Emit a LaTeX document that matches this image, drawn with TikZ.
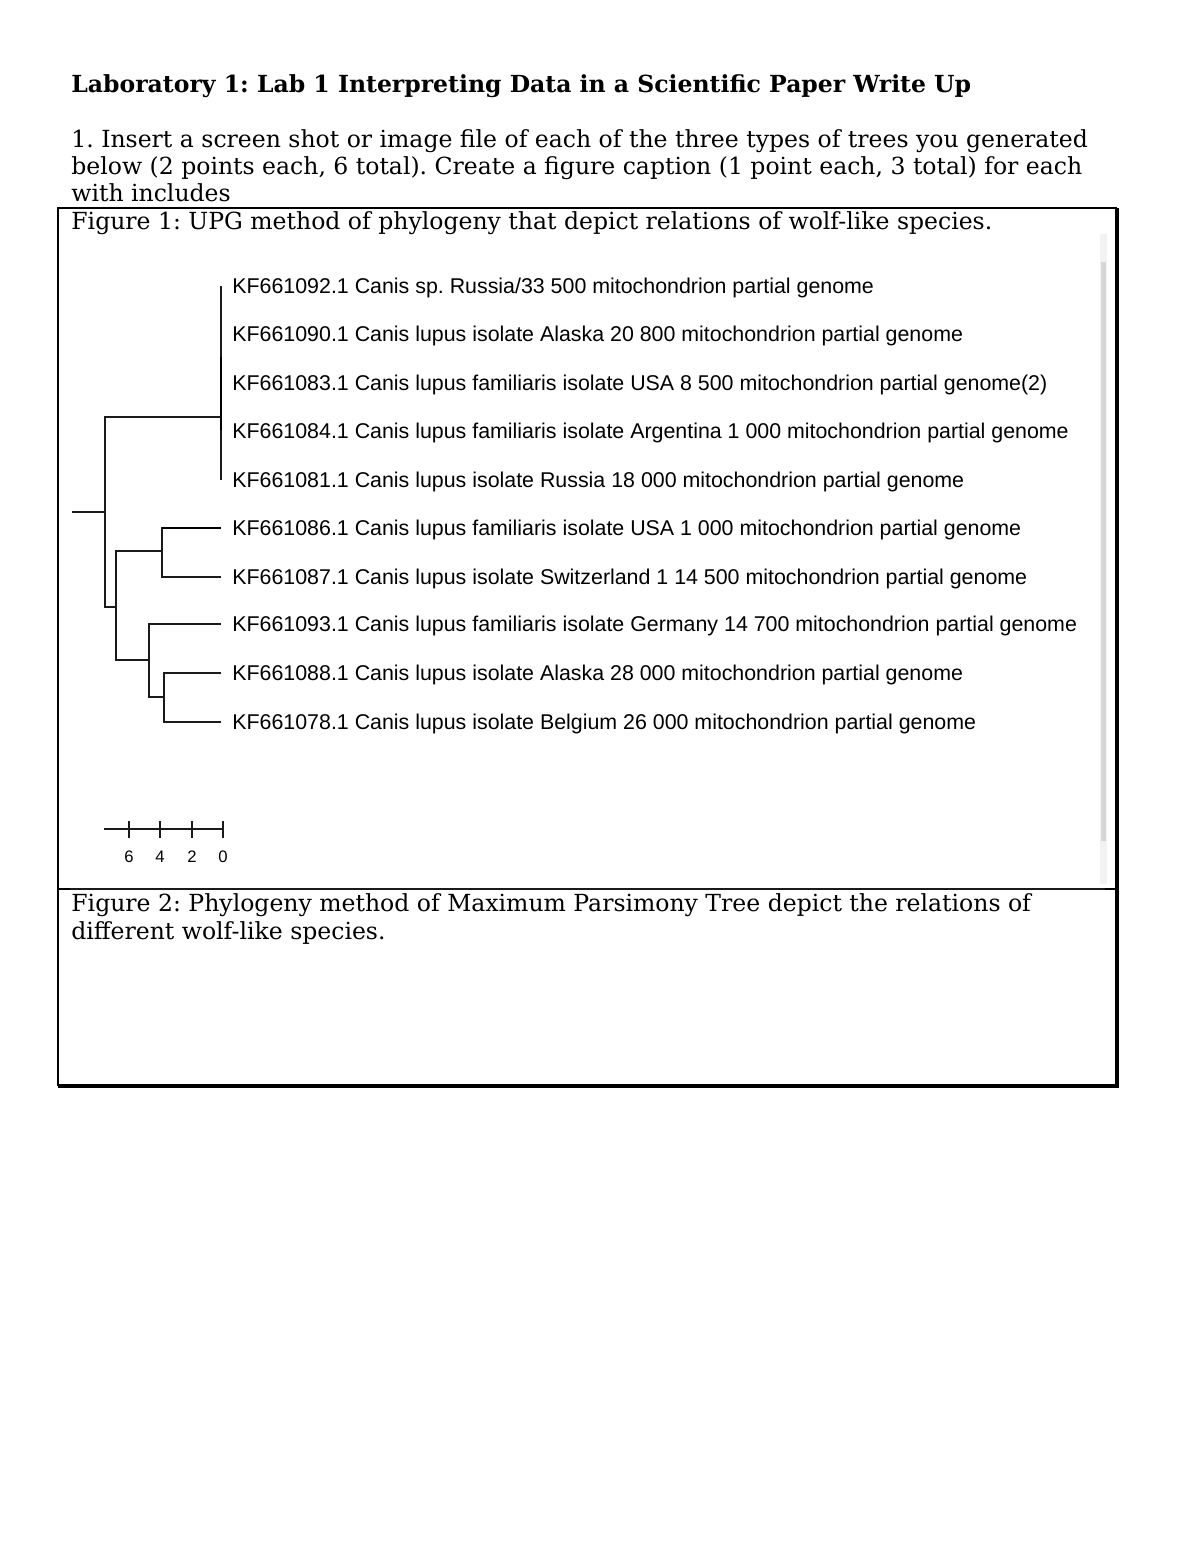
\documentclass[tikz,border=0pt]{standalone}
\usepackage{fontspec}
\setmainfont{DejaVu Serif}
\newfontfamily\treefont{Liberation Sans}
\usepackage{tikz}
\usetikzlibrary{positioning}
\definecolor{barlight}{HTML}{F2F2F2}
\definecolor{bardark}{HTML}{D6D6D6}
\definecolor{edge}{HTML}{1A1A1A}
\frenchspacing

\begin{document}
\begin{tikzpicture}[x=0.51pt,y=-0.51pt,
  doc/.style={anchor=base west,inner sep=0pt,font=\fontsize{12}{14}\selectfont,align=left},
  leaf/.style={anchor=west,inner sep=0pt,xshift=11*0.51pt,yshift=-0.8pt,font=\treefont\fontsize{10.9}{13}\selectfont},
  branch/.style={draw=edge,line width=0.75pt},
  heavy/.style={draw=black,line width=1.4pt},
  tick/.style={anchor=base,inner sep=0pt,font=\treefont\fontsize{8.5}{10}\selectfont}]
\useasboundingbox[fill=white] (0,0) rectangle (1200,1553);

% header text
\node[doc,font=\fontsize{12}{14}\selectfont\bfseries] (title) at (71,93)
  {Laboratory 1: Lab 1 Interpreting Data in a Scientific Paper Write Up};
\node[doc] (task) at (71,202)
  {1. Insert a screen shot or image file of each of the three types of trees you generated\\
   below (2 points each, 6 total). Create a figure caption (1 point each, 3 total) for each\\
   with includes};

% table frame
\draw[line width=1pt] (58,1086) -- (58,208) -- (1117,208);
\draw[line width=1.6pt] (1117,208) -- (1117,1086) -- (58,1086);
\draw[line width=0.6pt,draw=edge] (58,889) -- (1117,889);
\draw[line width=1.4pt] (58,889) -- (70,889) (1105,889) -- (1117,889);
\node[doc] (cap1) at (71,230) {Figure 1: UPG method of phylogeny that depict relations of wolf-like species.};
\node[doc] (cap2) at (71,939) {Figure 2: Phylogeny method of Maximum Parsimony Tree depict the relations of\\
  different wolf-like species.};

% scroll bar of the screenshot
\fill[barlight] (1100,234) rectangle (1107,884);
\fill[bardark] (1101,262) rectangle (1106,841);

% tips
\foreach \i/\y in {1/286,2/334,3/383,4/431,5/480,6/528,7/577,8/624,9/673,10/722}
  \coordinate (t\i) at (221,\y);

\path (t1) node[leaf] (l1) {KF661092.1 Canis sp. Russia/33 500 mitochondrion partial genome};
\path (t2) node[leaf] (l2) {KF661090.1 Canis lupus isolate Alaska 20 800 mitochondrion partial genome};
\path (t3) node[leaf] (l3) {KF661083.1 Canis lupus familiaris isolate USA 8 500 mitochondrion partial genome(2)};
\path (t4) node[leaf] (l4) {KF661084.1 Canis lupus familiaris isolate Argentina 1 000 mitochondrion partial genome};
\path (t5) node[leaf] (l5) {KF661081.1 Canis lupus isolate Russia 18 000 mitochondrion partial genome};
\path (t6) node[leaf] (l6) {KF661086.1 Canis lupus familiaris isolate USA 1 000 mitochondrion partial genome};
\path (t7) node[leaf] (l7) {KF661087.1 Canis lupus isolate Switzerland 1 14 500 mitochondrion partial genome};
\path (t8) node[leaf] (l8) {KF661093.1 Canis lupus familiaris isolate Germany 14 700 mitochondrion partial genome};
\path (t9) node[leaf] (l9) {KF661088.1 Canis lupus isolate Alaska 28 000 mitochondrion partial genome};
\path (t10) node[leaf] (l10) {KF661078.1 Canis lupus isolate Belgium 26 000 mitochondrion partial genome};

% inner nodes
\coordinate (stem) at (72,512);
\coordinate (r) at (105,512);
\coordinate (a) at (221,417);
\coordinate (b) at (116,607);
\coordinate (c) at (162,551);
\coordinate (d) at (149,660);
\coordinate (e) at (164,697);

\draw[branch] (stem) -- (r);
\draw[branch] (a) -| (r) |- (b);
\draw[branch] (t1) -- (t5);
\draw[heavy] (221,357) -- (221,430);
\draw[branch] (c) -| (b) |- (d);
\draw[branch] (t6) -| (c) |- (t7);
\draw[heavy] (c|-t6) -- (t6);
\draw[branch] (t8) -| (d) |- (e);
\draw[branch] (t9) -| (e) |- (t10);

% scale
\coordinate (s0) at (104,829);
\coordinate (s1) at (223,829);
\draw[branch] (s0) -- (s1);
\foreach \x/\v in {129/6,160/4,192/2,223/0}{
  \draw[branch] (\x,821) -- (\x,838);
  \node[tick] at (\x,862) {\v};
}
\end{tikzpicture}
\end{document}
